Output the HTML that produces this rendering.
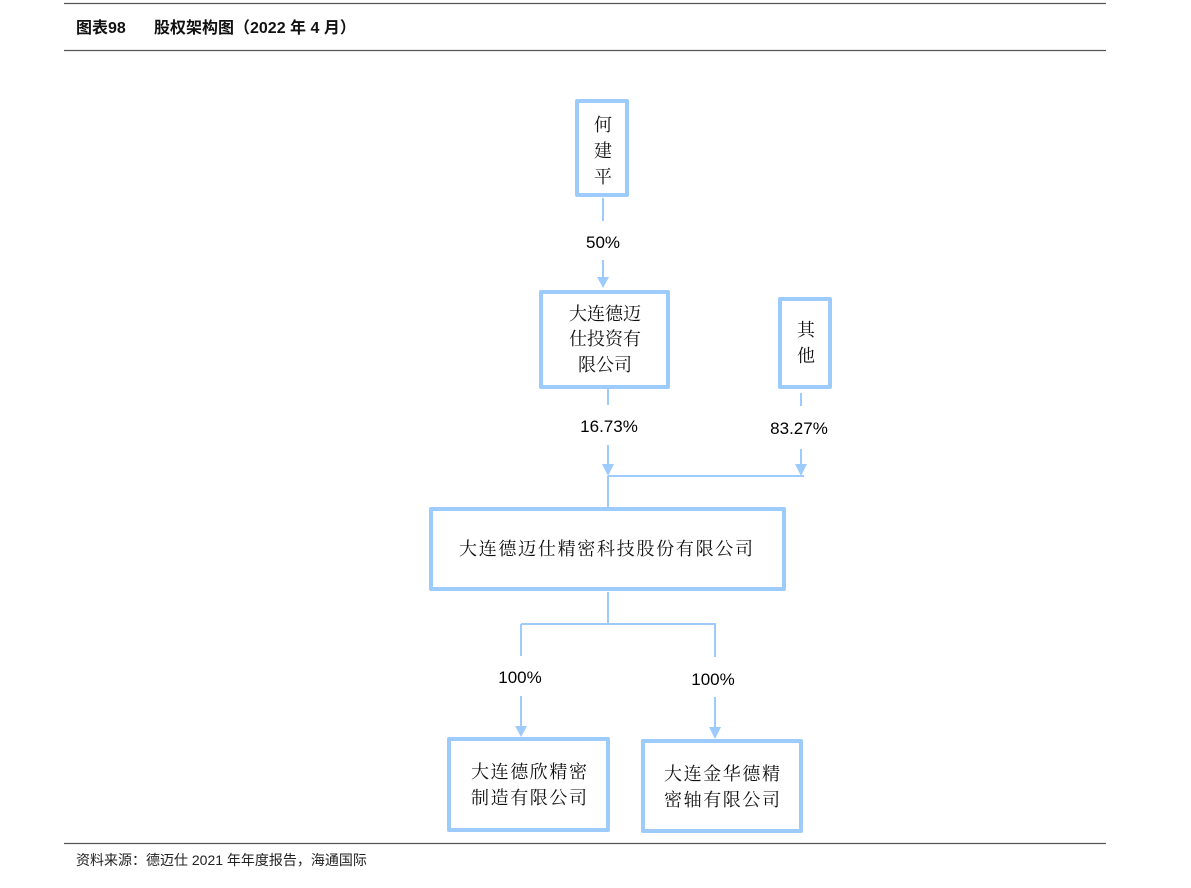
<!DOCTYPE html>
<html><head><meta charset="utf-8"><style>
html,body{margin:0;padding:0;background:#fff;}
svg{display:block;}
.t{font-family:"Liberation Sans","Noto Sans CJK SC",sans-serif;font-size:17px;fill:#000;}
.b{font-family:"Liberation Serif","Noto Serif CJK SC",serif;font-size:18px;fill:#111;}
.h{font-family:"Liberation Sans","Noto Sans CJK SC",sans-serif;font-size:16px;font-weight:bold;fill:#111;}
.s{font-family:"Liberation Sans","Noto Sans CJK SC",sans-serif;font-size:14px;fill:#222;}
</style></head><body>
<svg width="1191" height="888" viewBox="0 0 1191 888" xmlns="http://www.w3.org/2000/svg">
<line x1="64" y1="3.5" x2="1106" y2="3.5" stroke="#555" stroke-width="1.2"/>
<line x1="64" y1="50.5" x2="1106" y2="50.5" stroke="#555" stroke-width="1.2"/>
<line x1="64" y1="843.5" x2="1106" y2="843.5" stroke="#555" stroke-width="1.2"/>
<text class="h" x="76" y="33">图表98</text>
<text class="h" x="154" y="33">股权架构图（2022 年 4 月）</text>
<text class="s" x="76" y="865">资料来源：德迈仕 2021 年年度报告，海通国际</text>

<g fill="none" stroke="#9dcbfb" stroke-width="4" stroke-linejoin="round">
<rect x="577" y="101" width="50" height="94"/>
<rect x="541" y="292" width="127" height="95"/>
<rect x="780" y="299" width="50" height="88"/>
<rect x="431" y="509" width="353" height="80"/>
<rect x="449" y="739" width="159" height="91"/>
<rect x="643" y="741" width="158" height="90"/>
</g>
<g stroke="#9dcbfb" stroke-width="2" fill="none">
<line x1="603" y1="198" x2="603" y2="221"/>
<line x1="603" y1="260" x2="603" y2="278"/>
<line x1="608" y1="389" x2="608" y2="405"/>
<line x1="608" y1="445" x2="608" y2="466"/>
<line x1="801" y1="393" x2="801" y2="406"/>
<line x1="801" y1="449" x2="801" y2="466"/>
<line x1="608" y1="476" x2="804" y2="476"/>
<line x1="608" y1="476" x2="608" y2="507"/>
<line x1="608" y1="592" x2="608" y2="625"/>
<line x1="521" y1="624" x2="716" y2="624"/>
<line x1="521" y1="624" x2="521" y2="656"/>
<line x1="715" y1="624" x2="715" y2="657"/>
<line x1="521" y1="696" x2="521" y2="727"/>
<line x1="715" y1="697" x2="715" y2="728"/>
</g>
<g fill="#9dcbfb">
<polygon points="597,277 609,277 603,288"/>
<polygon points="602,464 614,464 608,476"/>
<polygon points="795,464 807,464 801,476"/>
<polygon points="515,726 527,726 521,737"/>
<polygon points="709,727 721,727 715,739"/>
</g>
<g class="t" text-anchor="middle">
<text x="603" y="248">50%</text>
<text x="609" y="432">16.73%</text>
<text x="799" y="434">83.27%</text>
<text x="520" y="683">100%</text>
<text x="713" y="685">100%</text>
</g>
<g class="b" text-anchor="middle">
<text x="603" y="131">何</text>
<text x="603" y="157">建</text>
<text x="603" y="183">平</text>
<text x="605" y="320">大连德迈</text>
<text x="605" y="345">仕投资有</text>
<text x="605" y="371">限公司</text>
<text x="806" y="336">其</text>
<text x="806" y="362">他</text>
<text x="606" y="555" textLength="294" lengthAdjust="spacing">大连德迈仕精密科技股份有限公司</text>
<text x="529" y="778" textLength="116" lengthAdjust="spacing">大连德欣精密</text>
<text x="529" y="804" textLength="116" lengthAdjust="spacing">制造有限公司</text>
<text x="722" y="780" textLength="116" lengthAdjust="spacing">大连金华德精</text>
<text x="722" y="806" textLength="116" lengthAdjust="spacing">密轴有限公司</text>
</g>
</svg>
</body></html>
